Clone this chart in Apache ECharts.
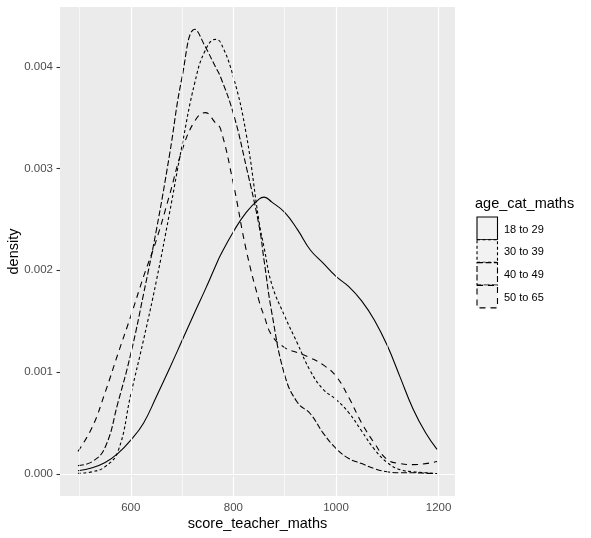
<!DOCTYPE html>
<html>
<head>
<meta charset="utf-8">
<script src="https://cdn.jsdelivr.net/npm/echarts@6/dist/echarts.min.js"></script>
<style>
html,body{margin:0;padding:0;background:#fff;}
#chart{width:591px;height:538px;}
</style>
</head>
<body>
<div id="chart"></div>
<script>
// ---- data ----
var groups = ['18 to 29', '30 to 39', '40 to 49', '50 to 65'];
var scoreX = [497,525,550,575,600,625,650,675,700,725,745,765,775,800,825,850,860,875,900,925,950,975,1000,1025,1050,1075,1100,1125,1150,1175,1197];
var dens18to29 = [0.00003,0.00006,0.00011,0.0002,0.00033,0.0005,0.00076,0.00103,0.00131,0.00159,0.00181,0.00204,0.00215,0.00238,0.00257,0.0027,0.00272,0.00267,0.00257,0.0024,0.0022,0.00207,0.00194,0.00184,0.0017,0.00151,0.00126,0.00095,0.00064,0.0004,0.00024];
var dens30to39 = [0.000005,0.00002,0.00007,0.00022,0.00078,0.00132,0.0019,0.00255,0.00323,0.00385,0.00416,0.00427,0.00424,0.0039,0.00334,0.00248,0.00222,0.00186,0.00155,0.00128,0.00101,0.00083,0.00073,0.0006,0.00042,0.00024,0.00011,0.00004,0.00002,0.00001,0.0];
var dens40to49 = [0.00008,0.00012,0.00026,0.0007,0.00118,0.00177,0.0024,0.00312,0.0039,0.00437,0.0042,0.004,0.0039,0.00354,0.00302,0.00244,0.00209,0.00158,0.00097,0.0007,0.00059,0.0004,0.00025,0.00015,0.0001,0.00005,0.00002,0.00001,0.00001,0.000005,0.0];
var dens50to65 = [0.00022,0.00046,0.0008,0.00118,0.00155,0.00194,0.0023,0.00273,0.00318,0.00347,0.00355,0.00345,0.00339,0.00285,0.0022,0.0017,0.00155,0.00136,0.00124,0.00119,0.00114,0.00107,0.00096,0.00075,0.0005,0.0003,0.00014,0.0001,0.00009,0.0001,0.00012];
var xTickLabels = [600, 800, 1000, 1200];
var xMinorGrid = [500, 700, 900, 1100];
var yTickLabels = [0.000, 0.001, 0.002, 0.003, 0.004];
var yMinorGrid = [0.0005, 0.0015, 0.0025, 0.0035, 0.0045];

// ---- build ----
var allDens = [dens18to29, dens30to39, dens40to49, dens50to65];
var dashes = ['solid', [3, 2.5], [6, 2.5], [6, 5]];
var FONT = "'Liberation Sans', Arial, Helvetica, sans-serif";

var xLo = Math.min.apply(null, scoreX), xHi = Math.max.apply(null, scoreX);
var xPad = (xHi - xLo) * 0.05;
var yHi = 0;
allDens.forEach(function (a) { a.forEach(function (v) { if (v > yHi) yHi = v; }); });
var yPad = yHi * 0.05;

function pairs(ys) { return scoreX.map(function (x, i) { return [x, ys[i]]; }); }

var gridLines = [];
xMinorGrid.forEach(function (v) { gridLines.push({ xAxis: v, lineStyle: { width: 0.6 } }); });
yMinorGrid.forEach(function (v) { gridLines.push({ yAxis: v, lineStyle: { width: 0.6 } }); });
xTickLabels.forEach(function (v) { gridLines.push({ xAxis: v, lineStyle: { width: 1.2 } }); });
yTickLabels.forEach(function (v) { gridLines.push({ yAxis: v, lineStyle: { width: 1.2 } }); });

var series = [{
  type: 'line', name: '_grid', data: [[xLo, 0]], symbol: 'none', z: 1,
  lineStyle: { opacity: 0 }, silent: true,
  markLine: {
    silent: true, symbol: ['none', 'none'], label: { show: false },
    lineStyle: { color: '#ffffff', type: 'solid' }, animation: false,
    emphasis: { disabled: true },
    data: gridLines
  }
}];
groups.forEach(function (g, i) {
  series.push({
    type: 'line', name: g, data: pairs(allDens[i]), smooth: 0.45,
    symbol: 'none', z: 3, silent: true,
    lineStyle: { color: '#000000', width: 1.1, type: dashes[i] }
  });
});

// legend drawn with graphic elements
var gfx = [{
  type: 'text', left: 475, top: 196,
  style: { text: 'age_cat_maths', font: '14.5px ' + FONT, fill: '#000' }
}];
groups.forEach(function (g, i) {
  var top = 217 + i * 22.8;
  gfx.push({
    type: 'rect', shape: { x: 477, y: top, width: 20.5, height: 22.5 },
    style: { fill: '#f2f2f2', stroke: '#000', lineWidth: 1.1, lineDash: dashes[i] === 'solid' ? null : dashes[i] }
  });
  gfx.push({
    type: 'text', left: 504, top: top + 7,
    style: { text: g, font: '11px ' + FONT, fill: '#000' }
  });
});

var chart = echarts.init(document.getElementById('chart'), null, { renderer: 'canvas' });
chart.setOption({
  animation: false,
  backgroundColor: '#ffffff',
  textStyle: { fontFamily: FONT },
  grid: { left: 60, right: 136, top: 7, bottom: 42, show: true, backgroundColor: '#ebebeb', borderWidth: 0,
    containLabel: false, outerBoundsMode: 'none' },
  xAxis: {
    type: 'value', min: xLo - xPad, max: xHi + xPad,
    name: 'score_teacher_maths', nameLocation: 'middle', nameGap: 20, nameMoveOverlap: false,
    nameTextStyle: { fontSize: 14.5, color: '#000', fontFamily: FONT },
    axisLine: { show: false },
    axisTick: { show: true, length: 3.5, lineStyle: { color: '#333', width: 1.1 }, customValues: xTickLabels },
    axisLabel: { show: true, customValues: xTickLabels, color: '#4d4d4d', fontSize: 11.5, margin: 6, fontFamily: FONT,
      formatter: function (v) { return String(v); } },
    splitLine: { show: false }
  },
  yAxis: {
    type: 'value', min: -yPad, max: yHi + yPad,
    name: 'density', nameLocation: 'middle', nameGap: 39, nameMoveOverlap: false,
    nameTextStyle: { fontSize: 14.5, color: '#000', fontFamily: FONT },
    axisLine: { show: false },
    axisTick: { show: true, length: 3.5, lineStyle: { color: '#333', width: 1.1 }, customValues: yTickLabels },
    axisLabel: { show: true, customValues: yTickLabels, color: '#4d4d4d', fontSize: 11.5, margin: 7, fontFamily: FONT,
      formatter: function (v) { return v.toFixed(3); } },
    splitLine: { show: false }
  },
  graphic: gfx,
  series: series
});
</script>
</body>
</html>
